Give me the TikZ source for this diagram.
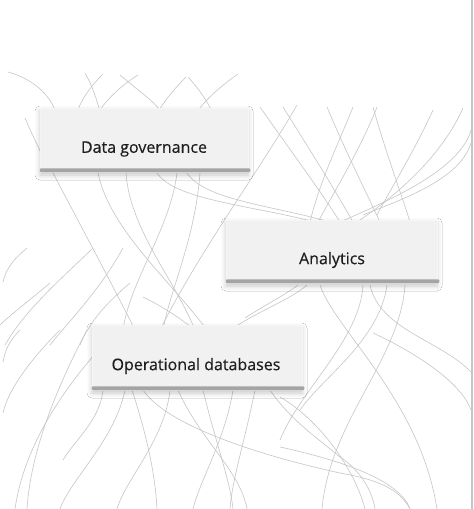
\documentclass[tikz,border=0pt]{standalone}
\usepackage{fontspec}
\setmainfont{Open Sans}
\newfontfamily\lblfont{Open Sans}[FakeBold=0.4]
\usetikzlibrary{shadows.blur}
\definecolor{wirecol}{HTML}{C6C6C6}
\definecolor{boxfill}{HTML}{F1F1F1}
\definecolor{barcol}{HTML}{A4A4A4}
\definecolor{txtcol}{HTML}{1E1E1E}
\tikzset{
  wire/.style={draw=wirecol, line width=0.6pt},
  panel/.style={fill=boxfill, draw=boxfill!70!white, line width=0.5pt, inner sep=0pt,
    blur shadow={shadow xshift=0pt, shadow yshift=-3pt, shadow blur radius=5pt, shadow opacity=22}},
  bar/.style={fill=barcol, rounded corners=1.2pt},
  label/.style={text=txtcol, font=\lblfont\fontsize{16}{19}\selectfont, inner sep=0pt}
}
\begin{document}
\begin{tikzpicture}[x=1pt,y=-1pt]
\useasboundingbox (0,0) rectangle (474,509);
\fill[white] (0,0) rectangle (474,509);
% right border line
\draw[draw=gray!45, line width=1.4pt] (472,0) -- (472,509);
% background wires
\foreach \p in {
 {(8,72) .. controls (30,78) and (48,92) .. (55,110)},
 {(85,73) .. controls (92,85) and (97,100) .. (100,112)},
 {(103,74) .. controls (92,85) and (82,98) .. (78,110)},
 {(120,75) .. controls (135,88) and (150,98) .. (160,110)},
 {(138,75) .. controls (122,85) and (108,98) .. (100,110)},
 {(186,77) .. controls (175,88) and (165,100) .. (158,112)},
 {(188,77) .. controls (198,88) and (207,100) .. (212,112)},
 {(238,74) .. controls (222,85) and (205,100) .. (197,112)},
 {(25,118) .. controls (30,130) and (36,142) .. (42,155)},
 {(53,173) .. controls (75,215) and (110,280) .. (135,330)},
 {(98,173) .. controls (110,230) and (170,280) .. (207,330)},
 {(126,173) .. controls (130,230) and (175,280) .. (195,330)},
 {(177,173) .. controls (170,230) and (130,280) .. (123,330)},
 {(200,173) .. controls (195,240) and (170,290) .. (163,330)},
 {(157,173) .. controls (175,200) and (250,205) .. (315,222)},
 {(187,173) .. controls (205,200) and (270,205) .. (330,222)},
 {(297,105) .. controls (260,170) and (200,250) .. (160,330)},
 {(260,107) .. controls (290,150) and (320,190) .. (340,222)},
 {(283,107) .. controls (310,150) and (335,190) .. (353,222)},
 {(327,107) .. controls (345,150) and (365,190) .. (380,222)},
 {(353,107) .. controls (340,140) and (320,180) .. (310,222)},
 {(377,107) .. controls (360,150) and (335,190) .. (318,222)},
 {(373,107) .. controls (385,150) and (400,190) .. (410,222)},
 {(433,110) .. controls (415,150) and (390,190) .. (377,215)},
 {(463,108) .. controls (440,160) and (390,200) .. (357,222)},
 {(471,130) .. controls (460,170) and (390,200) .. (340,222)},
 {(471,143) .. controls (460,180) and (400,200) .. (363,215)},
 {(27,248) .. controls (15,258) and (6,268) .. (3,282)},
 {(93,248) .. controls (60,280) and (25,310) .. (5,345)},
 {(123,248) .. controls (100,290) and (70,320) .. (50,345)},
 {(50,283) .. controls (30,300) and (10,315) .. (0,325)},
 {(130,283) .. controls (110,300) and (90,320) .. (80,345)},
 {(143,297) .. controls (160,305) and (180,318) .. (195,330)},
 {(20,330) .. controls (10,340) and (5,350) .. (3,362)},
 {(60,330) .. controls (30,360) and (8,390) .. (3,413)},
 {(87,330) .. controls (50,400) and (30,460) .. (27,509)},
 {(112,335) .. controls (70,380) and (25,440) .. (15,509)},
 {(307,285) .. controls (290,300) and (260,310) .. (230,330)},
 {(298,285) .. controls (285,295) and (265,305) .. (245,318)},
 {(320,285) .. controls (335,330) and (420,400) .. (437,509)},
 {(363,285) .. controls (360,340) and (300,390) .. (280,440)},
 {(387,285) .. controls (380,340) and (320,380) .. (300,410)},
 {(370,285) .. controls (380,330) and (440,340) .. (471,372)},
 {(405,285) .. controls (400,360) and (330,420) .. (322,509)},
 {(373,333) .. controls (410,350) and (460,380) .. (471,410)},
 {(280,397) .. controls (320,420) and (355,470) .. (365,509)},
 {(280,447) .. controls (340,460) and (400,480) .. (410,509)},
 {(103,390) .. controls (100,420) and (75,440) .. (63,460)},
 {(125,390) .. controls (115,440) and (70,480) .. (60,509)},
 {(132,390) .. controls (145,430) and (155,470) .. (157,509)},
 {(143,390) .. controls (170,430) and (280,460) .. (340,473)},
 {(170,390) .. controls (165,440) and (125,480) .. (117,509)},
 {(178,390) .. controls (200,440) and (240,470) .. (247,509)},
 {(203,390) .. controls (215,440) and (230,480) .. (233,509)},
 {(233,390) .. controls (225,440) and (200,480) .. (193,509)},
 {(255,390) .. controls (245,440) and (232,480) .. (230,509)},
 {(270,390) .. controls (290,420) and (320,440) .. (340,457)},
 {(340,473) .. controls (380,480) and (400,490) .. (410,509)},
 {(340,457) .. controls (360,470) and (372,490) .. (375,509)}
}{\draw[wire] \p;}
% boxes
\node[panel, minimum width=208pt, minimum height=64pt] (dg) at (144,140) {};
\fill[bar] ([yshift=4pt]dg.south west) rectangle ([xshift=2pt]dg.south east);
\node[label] (dgt) at (144,149) {Data governance};
\node[panel, minimum width=211pt, minimum height=63pt] (an) at (331.5,251.5) {};
\fill[bar] ([yshift=4pt]an.south west) rectangle ([xshift=2pt]an.south east);
\node[label] (ant) at (332,260) {Analytics};
\node[panel, minimum width=210pt, minimum height=65pt] (od) at (197,357.5) {};
\fill[bar] ([yshift=4pt]od.south west) rectangle ([xshift=2pt]od.south east);
\node[label] (odt) at (196,366) {Operational databases};
\end{tikzpicture}
\end{document}
